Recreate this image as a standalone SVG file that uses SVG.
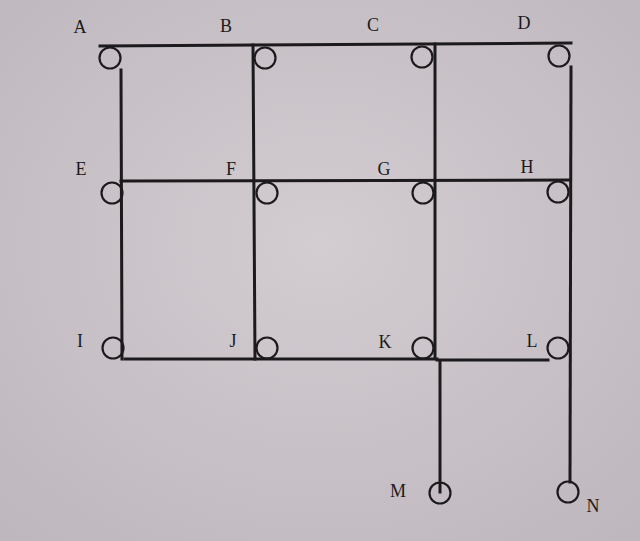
<svg xmlns="http://www.w3.org/2000/svg" width="640" height="541" viewBox="0 0 640 541">
<defs>
<radialGradient id="bg" cx="50%" cy="45%" r="75%">
<stop offset="0" stop-color="#d3ccd1"/>
<stop offset="1" stop-color="#bdb6bc"/>
</radialGradient>
</defs>
<style>
.ln{stroke:#1c1a1c;stroke-width:3;fill:none;stroke-linecap:square}
.nd{stroke:#1c1a1c;stroke-width:2.2;fill:none}
.lb{font-family:"Liberation Serif",serif;font-size:18px;fill:#1c1a1c;text-anchor:middle}
</style>
<rect width="640" height="541" fill="url(#bg)"/>
<g id="connectors">
<line class="ln" x1="100" y1="46" x2="571" y2="43"/>
<line class="ln" x1="121" y1="181" x2="570" y2="180"/>
<line class="ln" x1="125" y1="359" x2="437" y2="359"/>
<line class="ln" x1="437" y1="360" x2="548" y2="360"/>
<line class="ln" x1="121" y1="70" x2="122" y2="359"/>
<line class="ln" x1="253" y1="45" x2="255" y2="359"/>
<line class="ln" x1="435" y1="44" x2="435" y2="358"/>
<line class="ln" x1="440" y1="361" x2="440" y2="492"/>
<line class="ln" x1="571" y1="67" x2="570" y2="482"/>
</g>
<g id="A"><circle class="nd" cx="110" cy="58" r="10.5"/><text class="lb" x="80" y="33">A</text></g>
<g id="B"><circle class="nd" cx="265" cy="58" r="10.5"/><text class="lb" x="226" y="32">B</text></g>
<g id="C"><circle class="nd" cx="422" cy="57" r="10.5"/><text class="lb" x="373" y="31">C</text></g>
<g id="D"><circle class="nd" cx="559" cy="56" r="10.5"/><text class="lb" x="524" y="29">D</text></g>
<g id="E"><circle class="nd" cx="112" cy="193" r="10.5"/><text class="lb" x="81" y="175">E</text></g>
<g id="F"><circle class="nd" cx="267" cy="193" r="10.5"/><text class="lb" x="231" y="175">F</text></g>
<g id="G"><circle class="nd" cx="423" cy="193" r="10.5"/><text class="lb" x="384" y="175">G</text></g>
<g id="H"><circle class="nd" cx="558" cy="192" r="10.5"/><text class="lb" x="527" y="173">H</text></g>
<g id="I"><circle class="nd" cx="113" cy="348" r="10.5"/><text class="lb" x="80" y="347">I</text></g>
<g id="J"><circle class="nd" cx="267" cy="348" r="10.5"/><text class="lb" x="233" y="347">J</text></g>
<g id="K"><circle class="nd" cx="423" cy="348" r="10.5"/><text class="lb" x="385" y="348">K</text></g>
<g id="L"><circle class="nd" cx="558" cy="348" r="10.5"/><text class="lb" x="532" y="347">L</text></g>
<g id="M"><circle class="nd" cx="440" cy="493" r="10.5"/><text class="lb" x="398" y="497">M</text></g>
<g id="N"><circle class="nd" cx="568" cy="492" r="10.5"/><text class="lb" x="593" y="512">N</text></g>
</svg>
